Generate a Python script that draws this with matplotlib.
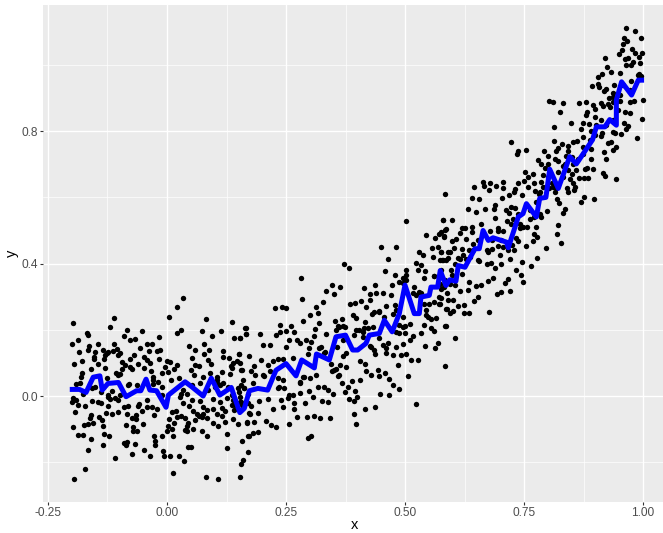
import matplotlib
matplotlib.use("Agg")
import matplotlib.pyplot as plt
import numpy as np

# points, (x, y), left to right by region
points_left = [
(-0.197,0.220),(-0.111,0.235),(-0.119,0.208),(-0.169,0.190),(-0.167,0.183),(-0.199,0.157),(-0.186,0.169),(-0.163,0.152),
(-0.167,0.138),(-0.184,0.132),(-0.146,0.156),(-0.151,0.134),(-0.135,0.138),(-0.127,0.130),(-0.111,0.156),(-0.114,0.136),
(-0.104,0.141),(-0.099,0.131),(-0.090,0.181),(-0.083,0.199),(-0.077,0.169),(-0.067,0.172),(-0.052,0.196),(-0.056,0.144),
(-0.041,0.157),(-0.031,0.156),(-0.016,0.178),(-0.037,0.135),(-0.021,0.135),(-0.014,0.139),(0.005,0.238),(0.022,0.269),
(0.034,0.296),(0.020,0.190),(0.030,0.199),(0.081,0.232),(0.074,0.196),(0.095,0.181),(0.114,0.196),(0.137,0.223),
(0.167,0.205),(0.141,0.175),(0.154,0.175),(0.167,0.187),(0.047,0.150),(0.059,0.138),(0.078,0.156),(0.078,0.126),
(0.089,0.138),(0.118,0.135),(0.118,0.117),(0.152,0.126),(0.131,0.114),(0.053,0.114),(0.087,0.108),(0.093,0.096),
(0.148,0.105),(0.135,0.091),(0.059,0.093),(0.068,0.090),(0.051,0.078),(0.057,0.063),(0.091,0.069),(0.116,0.072),
(0.133,0.066),(0.158,0.078),(0.076,0.057),(-0.016,0.111),(-0.001,0.105),(0.007,0.102),(0.021,0.093),(-0.004,0.087),
(0.015,0.081),(0.003,0.072),(-0.010,0.069),(0.026,0.054),(0.009,0.047),(-0.033,0.075),(-0.029,0.057),(-0.019,0.043),
(-0.048,0.117),(-0.041,0.108),(-0.035,0.099),(-0.060,0.096),(-0.048,0.084),(-0.069,0.123),(-0.077,0.111),(-0.095,0.102),
(-0.089,0.093),(-0.078,0.087),(-0.073,0.081),(-0.095,0.081),(-0.107,0.069),(-0.099,0.066),(-0.130,0.084),(-0.146,0.096),
(-0.153,0.111),(-0.132,0.111),(-0.178,0.105),(-0.195,0.096),(-0.178,0.071),(-0.181,0.057),(-0.159,0.081),(-0.191,0.035),
(-0.125,0.054),(-0.079,0.035),(-0.062,0.032),(-0.029,0.035),(-0.151,0.026),(-0.197,-0.007),(-0.192,-0.012),(-0.199,-0.019),
(-0.188,-0.028),(-0.173,-0.031),(-0.157,-0.014),(-0.146,-0.019),(-0.138,-0.021),(-0.123,-0.031),(-0.193,-0.049),(-0.160,-0.056),
(-0.162,-0.065),(-0.142,-0.062),(-0.136,-0.071),(-0.129,-0.050),(-0.115,-0.053),(-0.102,-0.049),(-0.085,-0.053),(-0.091,-0.034),
(-0.082,-0.031),(-0.058,-0.025),(-0.060,-0.031),(-0.043,-0.013),(-0.053,-0.046),(-0.041,-0.034),(-0.031,-0.034),(-0.020,-0.040),
(-0.027,-0.056),(-0.073,-0.065),(-0.065,-0.056),(-0.065,-0.068),(-0.050,-0.083),(-0.086,-0.086),(-0.071,-0.095),(-0.071,-0.107),
(-0.062,-0.107),(-0.197,-0.095),(-0.174,-0.086),(-0.165,-0.083),(-0.155,-0.080),(-0.134,-0.089),(-0.186,-0.119),(-0.176,-0.119),
(-0.159,-0.131),(-0.132,-0.116),(-0.122,-0.122),(-0.134,-0.149),(-0.165,-0.162),(-0.109,-0.186),(-0.172,-0.219),(-0.195,-0.252),
(-0.091,-0.143),(-0.083,-0.140),(-0.087,-0.149),(-0.068,-0.146),(-0.073,-0.174),(-0.048,-0.162),(-0.035,-0.180),(-0.027,-0.122),
(-0.025,-0.137),(-0.025,-0.149),(-0.008,-0.165),(-0.006,-0.180),(0.007,-0.180),(0.026,-0.180),(0.036,-0.195),(0.013,-0.231),
(0.081,-0.246),(0.108,-0.252),(0.154,-0.243),(0.156,-0.204),(0.160,-0.192),(0.171,-0.168),(0.125,-0.156),(0.158,-0.137),
(0.171,-0.122),(0.125,-0.116),(0.083,-0.122),(0.074,-0.107),(0.045,-0.153),(0.051,-0.153),(0.013,-0.122),(-0.010,-0.122),
(0.001,-0.107),(0.011,-0.101),(0.003,-0.089),(0.015,-0.080),(0.005,-0.068),(0.011,-0.049),(0.018,-0.046),(0.030,-0.059),
(0.021,-0.062),(0.038,-0.065),(0.045,-0.080),(0.041,-0.089),(0.038,-0.104),(0.055,-0.101),(0.043,-0.107),(0.059,-0.071),
(0.068,-0.059),(0.083,-0.065),(0.076,-0.034),(0.055,-0.046),(0.047,-0.031),(0.097,-0.040),(0.106,-0.053),(0.115,-0.059),
(0.097,-0.080),(0.108,-0.089),(0.122,-0.077),(0.139,-0.068),(0.150,-0.083),(0.169,-0.080),(0.122,-0.046),(0.136,-0.028),
(0.141,-0.043),(0.112,-0.019),(0.116,-0.037),(0.125,-0.007),(0.034,-0.022),(0.053,-0.013),(0.070,-0.016),(0.097,-0.010),
(0.030,0.005),(0.034,0.017),(0.069,0.038),(0.108,0.035),(0.150,0.023),(0.171,0.005),(-0.123,-0.002),(-0.102,-0.012),
(-0.120,-0.010),(-0.158,0.023),(-0.138,0.012),(-0.011,0.026),
]
points_mid = [
(.503,.530),(.579,.533),(.545,.487),(.571,.490),(.581,.481),(.562,.478),(.585,.502),(.449,.451),(.482,.451),(.4635,.415),
(.529,.436),(.537,.427),(.556,.448),(.5685,.451),(.575,.436),(.558,.421),(.577,.412),(.523,.403),(.533,.397),(.5265,.382),
(.457,.379),(.480,.367),(.503,.382),(.543,.379),(.539,.358),(.560,.364),(.371,.400),(.382,.388),(.281,.355),(.346,.334),
(.335,.316),(.363,.328),(.350,.307),(.283,.294),(.327,.285),(.413,.325),(.436,.334),(.426,.307),(.440,.310),(.453,.310),
(.472,.334),(.470,.304),(.384,.279),(.396,.282),(.407,.288),(.426,.291),(.419,.270),(.226,.267),(.241,.270),(.251,.267),
(.313,.270),(.317,.252),(.300,.246),(.285,.228),(.319,.222),(.237,.216),(.260,.213),(.2505,.195),(.238,.192),(.228,.183),
(.266,.192),(.310,.201),(.308,.180),(.333,.186),(.353,.228),(.367,.234),(.3585,.213),(.374,.210),(.390,.246),(.398,.237),
(.417,.225),(.430,.249),(.445,.258),(.461,.273),(.478,.276),(.474,.249),(.499,.213),(.510,.219),(.539,.216),(.566,.237),
(.585,.213),(.554,.204),(.560,.195),(.533,.189),(.516,.180),(.510,.168),(.499,.189),(.543,.150),(.5685,.159),(.564,.144),
(.583,.092),(.5265,.108),(.512,.108),(.503,.126),(.507,.062),(.491,.123),(.474,.123),(.4845,.095),(.495,.156),(.482,.147),
(.4635,.159),(.460,.129),(.454,.153),(.436,.126),(.4255,.150),(.405,.105),(.417,.098),(.419,.077),(.428,.065),(.4425,.080),
(.4445,.062),(.457,.071),(.4655,.050),(.474,.032),(.487,.020),(.447,.005),(.4655,.002),(.524,-.025),(.438,-.034),(.415,-.040),
(.392,-.055),(.398,-.085),(.382,-.010),(.392,-.016),(.3995,-.004),(.394,.014),(.373,.011),(.3795,.026),(.367,.039),(.388,.044),
(.405,.047),(.3585,.062),(.346,.077),(.376,.089),(.3635,.095),(.377,.129),(.369,.120),(.3445,.098),(.356,.083),(.314,.065),
(.300,.053),(.285,.059),(.279,.038),(.3165,.026),(.2975,.014),(.329,.026),(.3375,.017),(.348,.005),(.325,-.016),(.3375,-.019),
(.306,-.004),(.289,-.022),(.279,.008),(.257,.002),(.266,-.022),(.243,-.034),(.222,-.040),(.2115,-.010),(.2325,.023),(.194,-.016),
(.1765,-.031),(.1905,-.052),(.173,-.052),(.208,-.076),(.2185,-.087),(.229,-.092),(.257,-.085),(.2725,-.064),(.2935,-.064),(.308,-.061),
(.3205,-.067),(.342,-.067),(.2675,-.040),(.1905,-.110),(.180,-.113),(.172,-.122),(.3025,-.122),(.2955,-.128),(.1675,-.079),(.1835,-.079),
(.1555,-.019),(.1555,.078),(.173,.121),(.1825,.092),(.197,.108),(.176,.077),(.1845,.065),(.2045,.061),(.2115,.095),(.222,.105),
(.2325,.111),(.243,.111),(.264,.114),(.2155,.077),(.243,.047),(.2325,.053),(.152,.126),(.201,.153),(.2165,.153),(.25,.147),
(.2555,.168),(.273,.168),(.28,.159),(.291,.168),(.302,.162),(.299,.144),(.2955,.126),(.3235,.147),(.331,.134),(.3565,.147),
(.1645,.204),(.166,.186),(.153,.174),(.195,.186),
]
points_right = [
(.9645,1.113),(.983,1.101),(.996,1.080),(.960,1.080),(.967,1.071),(.958,1.062),(.956,1.044),(.950,1.032),(.977,1.047),(.983,1.035),
(.998,1.035),(.992,1.023),(.9625,1.017),(.969,1.020),(.979,1.008),(.994,1.007),(.9645,.999),(.975,1.000),(.920,1.020),(.925,.993),
(.933,.980),(.952,.977),(.914,.974),(.906,.965),(.893,.935),(.906,.941),(.908,.932),(.9225,.926),(.918,.920),(.939,.938),
(.975,.950),(.992,.974),(.996,.968),(.803,.890),(.811,.887),(.832,.884),(.826,.859),(.866,.884),(.8805,.887),(.895,.878),
(.899,.866),(.883,.859),(.8805,.850),(.899,.844),(.912,.884),(.916,.875),(.927,.881),(.929,.899),(.937,.902),(.952,.908),
(.952,.890),(.937,.887),(.972,.887),(.981,.890),(.9995,.893),(.962,.859),(.972,.856),(.998,.838),(.960,.826),(.969,.817),
(.9645,.805),(.988,.778),(.954,.790),(.937,.796),(.941,.793),(.912,.835),(.849,.826),(.874,.826),(.887,.823),(.813,.814),
(.870,.805),(.891,.799),(.913,.793),(.911,.784),(.874,.783),(.861,.769),(.853,.766),(.813,.769),(.830,.760),(.842,.754),
(.821,.748),(.818,.739),(.842,.739),(.8385,.726),(.816,.717),(.821,.710),(.8355,.702),(.832,.696),(.891,.745),(.891,.717),
(.927,.763),(.933,.766),(.9435,.751),(.937,.742),(.918,.738),(.9225,.717),(.874,.732),(.895,.687),(.878,.687),(.882,.690),
(.866,.660),(.885,.660),(.876,.660),(.916,.675),(.920,.666),(.9435,.657),(.860,.684),(.897,.596),(.876,.602),(.870,.587),
(.723,.766),(.738,.739),(.736,.732),(.7545,.742),(.780,.714),(.792,.739),(.801,.726),(.785,.702),(.794,.690),(.752,.678),
(.769,.672),(.758,.662),(.790,.669),(.738,.642),(.750,.648),(.770,.642),(.758,.630),(.731,.624),(.786,.645),(.790,.630),
(.803,.627),(.811,.630),(.822,.678),(.846,.657),(.853,.642),(.857,.630),(.8405,.627),(.842,.615),(.855,.621),(.729,.615),
(.745,.608),(.774,.618),(.782,.611),(.820,.596),(.824,.584),(.837,.566),(.832,.554),(.799,.560),(.645,.630),(.664,.645),
(.666,.633),(.679,.642),(.677,.621),(.6915,.633),(.706,.645),(.706,.627),(.719,.608),(.704,.599),(.584,.611),(.641,.599),
(.656,.596),(.633,.566),(.650,.557),(.668,.566),(.687,.566),(.689,.578),(.723,.572),(.731,.569),(.719,.554),(.737,.551),
(.689,.539),(.715,.530),(.727,.536),(.763,.536),(.580,.533),(.599,.533),(.660,.521),(.619,.509),(.627,.509),(.641,.512),
(.587,.506),(.576,.494),(.582,.482),(.616,.491),(.640,.494),(.696,.509),(.696,.497),(.706,.497),(.679,.497),(.741,.509),
(.757,.512),(.776,.512),(.822,.518),(.820,.488),(.828,.463),(.771,.490),(.778,.481),(.734,.478),(.738,.469),(.768,.469),
(.7545,.454),(.7965,.448),(.729,.442),(.6285,.475),(.6075,.475),(.598,.469),(.696,.454),(.717,.440),(.682,.445),(.673,.440),
(.620,.445),(.634,.442),(.576,.436),(.594,.436),(.603,.448),(.612,.418),(.591,.418),(.579,.412),(.622,.427),(.699,.425),
(.721,.415),(.778,.418),(.745,.406),(.656,.409),(.673,.400),(.681,.403),(.702,.400),(.690,.388),(.765,.394),(.7335,.382),
(.744,.367),(.748,.343),(.675,.348),(.685,.357),(.717,.354),(.711,.342),(.660,.336),(.6495,.333),(.635,.343),(.633,.321),
(.616,.318),(.721,.316),(.702,.314),(.694,.309),(.654,.300),(.645,.288),(.589,.312),(.576,.297),(.591,.291),(.601,.291),
(.624,.276),(.612,.271),(.589,.264),(.601,.256),(.594,.250),(.624,.252),(.634,.252),(.677,.255),(.5865,.212),(.605,.174),
(.575,.324),(.573,.279),(.597,.382),(.619,.370),
]
# the crowded band along the blue line
points_band = [
(-.183,.039),(-.176,.006),(-.134,.028),(-.116,.016),(-.123,.003),(-.109,-.007),(-.099,.003),(-.081,.033),(-.029,.048),(-.011,.003),
(.027,-.002),(.041,.006),(.052,.033),(.087,.018),(.101,.028),(.104,.048),(.111,.033),(.129,.026),(.139,-.012),(.146,-.022),
(.136,.003),(.161,.023),(.171,-.022),(.174,-.053),(.157,-.027),(.083,-.042),(.062,-.053),(.073,-.063),(.076,-.053),(-.102,.064),
(-.154,.119),(-.130,.124),(-.123,.134),(-.102,.124),(.153,.099),(.139,.099),(.136,.084),(.104,.059),(.118,.038),(.153,-.002),
(.153,-.017),(.143,-.027),(.159,.048),(.155,.033),(.1625,.023),(.152,.013),(.18,.038),(.201,.063),(.236,.028),(.2465,.023),
(.2535,-.007),(.2395,-.012),(.264,.003),(.279,.043),(.2885,.058),(.32,.144),(.3305,.129),(.3515,.078),(.362,.063),(.355,.199),
(.362,.209),(.369,.211),(.3935,.184),(.404,.199),(.411,.194),(.4215,.204),(.432,.209),(.411,.179),(.446,.174),(.4285,.149),
(.4355,.139),(.46,.144),(.488,.189),(.495,.209),(.488,.214),(.481,.194),(.502,.350),(.495,.340),(.516,.310),(.523,.305),
(.5335,.310),(.5405,.279),(.551,.279),(.5615,.284),(.572,.279),(.586,.264),(.544,.259),(.5475,.239),(.5545,.234),(.544,.244),
(.572,.299),(.5895,.340),(.5825,.330),(.5755,.380),(.5615,.362),(.586,.412),(.5895,.434),(.488,.345),(.495,.355),(.502,.365),
(.5195,.330),(.53,.315),(.397,.199),(.4145,.204),(.4565,.239),(.446,.254),(.4355,.254),(.481,.259),(.495,.239),(.369,.169),
(.573,.410),(.615,.415),(.629,.415),(.643,.460),(.654,.410),(.675,.435),(.682,.470),(.702,.470),(.706,.450),(.724,.455),
(.741,.521),(.748,.511),(.762,.561),(.772,.541),(.783,.551),(.786,.541),(.776,.586),(.783,.616),(.801,.662),(.808,.642),
(.818,.627),(.815,.617),(.801,.702),(.832,.662),(.843,.682),(.85,.672),(.85,.722),(.853,.702),(.864,.717),(.874,.753),
(.888,.773),(.899,.788),(.902,.818),(.923,.818),(.937,.833),(.947,.864),(.944,.889),(.93,.874),(.937,.914),(.958,.939),
(.99,.969),(.994,.959),(.972,.924),(.713,.561),(.723,.521),(.654,.470),(.643,.440),(.636,.420),(.605,.400),(.598,.365),
(.584,.349),(.573,.339),(.594,.339),(.605,.334),
]

line_x = [-0.199,-0.184,-0.170,-0.155,-0.141,-0.136,-0.124,-0.102,-0.086,-0.064,-0.055,-0.044,-0.036,-0.022,-0.002,0.003,
          0.038,0.052,0.076,0.093,0.111,0.135,0.153,0.1625,0.173,0.191,0.2115,0.229,0.25,0.271,0.283,0.3095,0.314,0.341,
          0.355,0.375,0.39,0.4005,0.418,0.425,0.446,0.4565,0.473,0.488,0.50,0.5195,0.53,0.5335,0.551,0.5545,0.5685,0.574,
          0.586,0.594,0.607,0.612,0.626,0.647,0.656,0.664,0.675,0.685,0.713,0.717,0.738,0.748,0.755,0.776,0.783,0.796,
          0.804,0.822,0.846,0.860,0.894,0.902,0.920,0.930,0.944,0.944,0.955,0.976,0.990,0.997]
line_y = [0.020,0.020,0.011,0.057,0.061,0.018,0.038,0.041,-0.002,0.016,0.016,0.051,0.018,0.016,-0.034,0.003,
          0.043,0.028,0.0,0.054,0.003,0.026,-0.050,-0.037,0.016,0.023,0.018,0.078,0.098,0.061,0.109,0.085,0.127,0.109,
          0.179,0.184,0.139,0.139,0.159,0.184,0.189,0.229,0.194,0.249,0.335,0.249,0.249,0.299,0.304,0.329,0.329,0.379,
          0.334,0.351,0.347,0.394,0.389,0.445,0.445,0.500,0.470,0.478,0.465,0.448,0.541,0.551,0.581,0.541,0.597,0.600,
          0.685,0.627,0.723,0.701,0.774,0.813,0.813,0.835,0.818,0.894,0.949,0.909,0.954,0.954]

x_major = [-0.25, 0, 0.25, 0.5, 0.75, 1.0]
x_labels = ["-0.25", "0.00", "0.25", "0.50", "0.75", "1.00"]
y_major = [0.0, 0.4, 0.8]
y_labels = ["0.0", "0.4", "0.8"]
x_minor = [-0.125, 0.125, 0.375, 0.625, 0.875]
y_minor = [-0.2, 0.2, 0.6, 1.0]

plt.rcParams['font.family'] = ['Liberation Sans', 'DejaVu Sans']

W, H = 663, 533
fig = plt.figure(figsize=(W / 100, H / 100), dpi=100)
ax = fig.add_axes([43 / W, (H - 502) / H, 620 / W, 497 / H])
ax.set_facecolor("#EBEBEB")
for s in ax.spines.values():
    s.set_visible(False)

pts = np.array(points_left + points_mid + points_right + points_band)
ax.scatter(pts[:, 0], pts[:, 1], s=15, c="black", linewidths=0, zorder=3)
ax.plot(line_x, line_y, color="#0000FF", lw=3.6, solid_joinstyle="round", zorder=4)

ax.set_xlim(-0.2605, 1.042)
ax.set_ylim(-0.32, 1.181)
ax.set_xticks(x_major)
ax.set_xticklabels(x_labels)
ax.set_yticks(y_major)
ax.set_yticklabels(y_labels)
ax.set_xticks(x_minor, minor=True)
ax.set_yticks(y_minor, minor=True)
ax.grid(True, which="major", color="white", lw=1.0, zorder=1)
ax.grid(True, which="minor", color="white", lw=0.5, zorder=1)
ax.set_axisbelow(True)
ax.tick_params(which="major", length=2.2, width=0.8, color="#333333", labelcolor="#4D4D4D", labelsize=8.6, pad=1.5)
ax.tick_params(which="minor", length=0)

fig.text(12 / W, 1 - 253 / H, "y", rotation=90, ha="center", va="center", fontsize=10.5, color="black")
fig.text(355 / W, 1 / H, "x", ha="center", va="bottom", fontsize=10.5, color="black")

fig.savefig("out.png", dpi=100)
